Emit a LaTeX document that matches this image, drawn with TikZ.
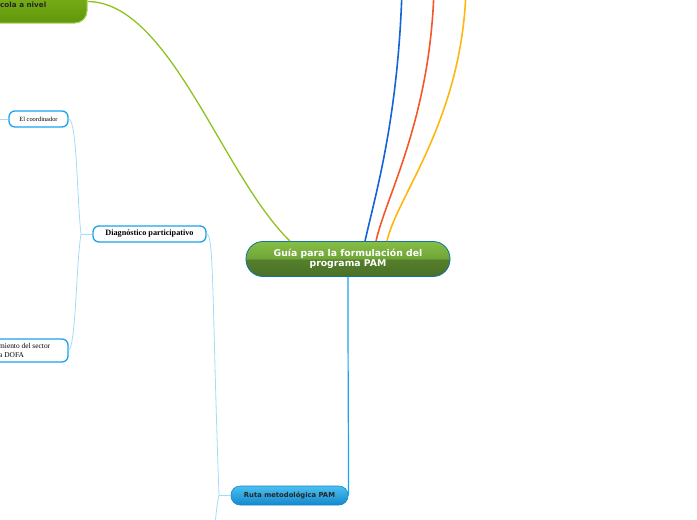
\documentclass[tikz,border=0pt]{standalone}
\usepackage{fontspec}
\newfontfamily\pamsans{DejaVu Sans}
\newfontfamily\pamserif{Liberation Serif}
\definecolor{glight}{HTML}{86BE45}
\definecolor{gmidl}{HTML}{6FA538}
\definecolor{gmidd}{HTML}{557F2C}
\definecolor{gdark}{HTML}{4A7026}
\definecolor{topg}{HTML}{84BC1C}
\definecolor{topgd}{HTML}{62960C}
\definecolor{rutatop}{HTML}{4CC0F0}
\definecolor{rutabot}{HTML}{1488CC}
\definecolor{edgeblue}{HTML}{1AA3E8}
\definecolor{thinblue}{HTML}{A2DCF6}
\definecolor{lineblue}{HTML}{1464D8}
\definecolor{linered}{HTML}{F4582A}
\definecolor{lineyellow}{HTML}{FFB70F}
\definecolor{linegreen}{HTML}{8EC31F}
\pgfdeclareverticalshading{pamgreen}{100bp}{color(0bp)=(gdark);color(25bp)=(gdark);color(49.5bp)=(gmidd);color(50.5bp)=(gmidl);color(75bp)=(glight);color(100bp)=(glight)}
\tikzset{
    rootbox/.style={shading=pamgreen,draw=edgeblue!70!black,line width=.8pt,rounded corners=17pt,
        minimum width=204pt,minimum height=35pt,align=center,text=white,
        font=\pamsans\bfseries\fontsize{9.3}{10.3}\selectfont,inner sep=0pt},
    rutabox/.style={top color=rutatop,bottom color=rutabot,draw=rutabot,line width=.6pt,rounded corners=9pt,
        minimum width=117pt,minimum height=19pt,inner sep=0pt,
        font=\pamsans\bfseries\fontsize{6.8}{7}\selectfont,text=black!85},
    subbox/.style={fill=white,draw=edgeblue,line width=1.3pt,rounded corners=6pt,inner sep=0pt},
    thin/.style={thinblue,line width=.8pt},
}
\begin{document}
\begin{tikzpicture}[x=1pt,y=-1pt,>=latex]
    \useasboundingbox (0,0) rectangle (697,520);
    % top left branch
    \node[top color=topg,bottom color=topgd,draw=topg!70,line width=1pt,rounded corners=12pt,
        minimum width=147pt,minimum height=43pt] (topbox) at (13.5,1.5) {};
    \node[anchor=west,inner sep=0pt,font=\pamsans\bfseries\fontsize{7.2}{8}\selectfont,text=black!85]
        (toptext) at (0,5) {cola a nivel};
    % root
    \node[rootbox] (root) at (348,259) {Guía para la formulación del\\programa PAM};
    \draw[linegreen,line width=1.3pt] (topbox.east) .. controls (170,2) and (222,175) .. ([xshift=-58pt]root.north);
    \foreach \dx/\tx/\col in {17/402/lineblue,28/434/linered,39/466/lineyellow}
    {
        \coordinate (tip\col) at (\tx,-10);
        \draw[\col,line width=1.6pt] ([xshift=\dx pt]root.north) .. controls +(10,-45) and (\tx-4,120) .. (tip\col);
    }
    % ruta
    \node[rutabox] (ruta) at (289.5,495.5) {Ruta metodológica PAM};
    \draw[edgeblue,line width=1.2pt] (root.south) .. controls (348,420) and (349,488) .. (ruta.east);
    % diagnostico
    \node[subbox,minimum width=113pt,minimum height=16pt,font=\pamserif\bfseries\fontsize{8.2}{9}\selectfont]
        (diag) at (149.5,234) {Diagnóstico participativo};
    \coordinate (rutajoin) at (219,495.5);
    \coordinate (rutadown) at (215,525);
    \draw[thin] (diag.east) .. controls (214,234) and (212,300) .. (rutajoin);
    \draw[thin] (rutajoin) -- (ruta.west);
    \draw[thin] (rutajoin) .. controls (217,505) .. (rutadown);
    % left subnodes
    \node[subbox,minimum width=59pt,minimum height=16pt,font=\pamserif\fontsize{6.4}{7}\selectfont]
        (coord) at (38.5,119) {El coordinador};
    \node[subbox,minimum width=100pt,minimum height=23pt] (lowbox) at (18,350.5) {};
    \node[anchor=west,inner sep=0pt,align=left,font=\pamserif\fontsize{7.4}{8.6}\selectfont]
        (lowtext) at (-1,350.5) {miento del sector\\a DOFA};
    \coordinate (diagjoin) at (81,234);
    \coordinate (coordin) at (-5,119);
    \draw[thin] (coordin) -- (coord.west);
    \draw[thin] (coord.east) .. controls (77,119) and (77,200) .. (diagjoin);
    \draw[thin] (diagjoin) -- (diag.west);
    \draw[thin] (diagjoin) .. controls (76,265) and (76,345) .. (lowbox.east);
\end{tikzpicture}
\end{document}
